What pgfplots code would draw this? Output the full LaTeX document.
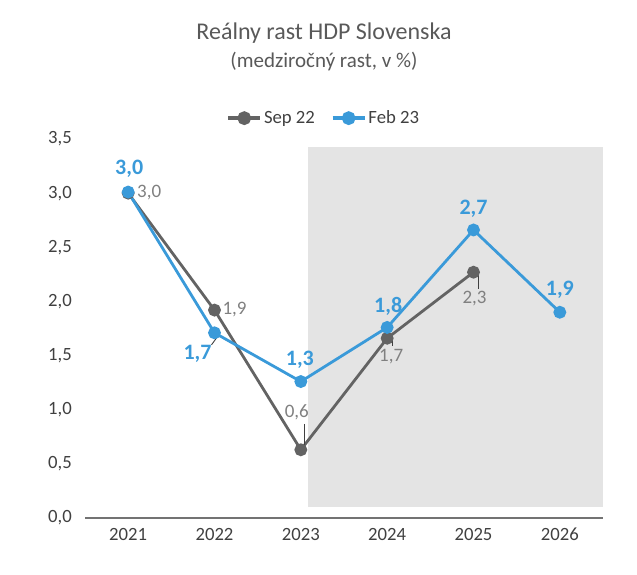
\documentclass[border=0pt]{standalone}
\usepackage{pgfplots}
\usepackage{pgfplotstable}
\pgfplotsset{compat=1.18}
\usepackage{fontspec}
\setmainfont{Carlito}

\definecolor{sepgray}{HTML}{636363}
\definecolor{seplabel}{HTML}{808080}
\definecolor{febblue}{HTML}{3A9AD9}
\definecolor{shade}{HTML}{E4E4E4}
\definecolor{titlegray}{HTML}{595959}
\definecolor{ticktext}{HTML}{404040}

% label offsets (dx, dy in pt) relative to each point
\pgfplotstableread{
x y dx dy
0 3.00 21 1
1 1.92 20 1
2 0.63 -4 37
3 1.66 4 -18
4 2.27 1 -26
}\sepdata

\pgfplotstableread{
x y dx dy
0 3.01 1 23
1 1.71 -17 -21
2 1.26 -1 22
3 1.76 1 21
4 2.66 0 21
5 1.90 0 22
}\febdata

\pgfplotsset{
  valuelabels/.style={
    nodes near coords={\pgfmathprintnumber[fixed,fixed zerofill,precision=1,use comma]{\pgfplotspointmeta}},
    visualization depends on={\thisrow{dx} \as \lblx},
    visualization depends on={\thisrow{dy} \as \lbly},
    every node near coord/.append style={anchor=center, inner sep=0pt,
      xshift=\lblx pt, yshift=\lbly pt},
  },
}

\begin{document}
\begin{tikzpicture}
\path[use as bounding box] (0,0) rectangle (637pt,574pt);

\node[font=\fontsize{24}{28}\selectfont, text=titlegray] at (324pt,541pt) {Reálny rast HDP Slovenska};
\node[font=\fontsize{21}{25}\selectfont, text=titlegray] at (324pt,512pt) {(medziročný rast, v~\%)};

\begin{axis}[
  at={(85pt,56pt)}, anchor=south west,
  scale only axis, width=518pt, height=379pt,
  xmin=-0.5, xmax=5.5, ymin=0, ymax=3.5,
  xtick={0,...,5}, xticklabels={2021,2022,2023,2024,2025,2026},
  ytick={0,0.5,...,3.5},
  major tick length=0pt,
  axis x line*=bottom, axis y line*=left,
  y axis line style={draw=none},
  x axis line style={draw=black!55, line width=1.2pt},
  /pgf/number format/assume math mode=true,
  yticklabel={\pgfmathprintnumber[fixed,fixed zerofill,precision=1,use comma]{\tick}},
  tick label style={font=\fontsize{18.7}{22}\selectfont, text=ticktext},
  yticklabel style={anchor=east, inner sep=0pt, xshift=-13pt},
  xticklabel style={anchor=north, inner sep=0pt, yshift=-10pt},
  clip=false,
  legend style={at={(0.461,1.055)}, anchor=center, draw=none, fill=none,
    legend columns=2, font=\fontsize{18.7}{22}\selectfont, text=ticktext,
    /tikz/every even column/.append style={column sep=14pt}},
  legend image code/.code={
    \draw[mark=none,#1,line width=3.5pt] (0pt,0pt) -- (32pt,0pt);
    \fill[#1] (16pt,0pt) circle (5.5pt);},
]
% forecast period background
\addplot[fill=shade, draw=none, forget plot]
  coordinates {(2.08,0.1) (5.5,0.1) (5.5,3.43) (2.08,3.43)} -- cycle;

\addplot[color=sepgray, line width=2.8pt, mark=*, mark size=5pt, valuelabels,
  every node near coord/.append style={text=seplabel, font=\fontsize{19}{22}\selectfont}]
  table[x=x,y=y] {\sepdata};
\addlegendentry{Sep 22}

\addplot[color=febblue, line width=2.8pt, mark=*, mark size=5pt, valuelabels,
  every node near coord/.append style={text=febblue, font=\bfseries\fontsize{22}{26}\selectfont}]
  table[x=x,y=y] {\febdata};
\addlegendentry{Feb 23}

% leader lines to displaced labels
\draw[black!75, line width=0.9pt] ([shift={(5pt,-1pt)}]axis cs:1,1.71) -- ++(-8pt,-11pt);
\draw[black!75, line width=0.9pt] ([shift={(4pt,26pt)}]axis cs:2,0.63) -- ++(0pt,-22pt);
\draw[black!75, line width=0.9pt] ([shift={(5pt,0pt)}]axis cs:3,1.66) -- ++(0pt,-8pt);
\draw[black!75, line width=0.9pt] ([shift={(5pt,0pt)}]axis cs:4,2.27) -- ++(0pt,-17pt);
\end{axis}
\end{tikzpicture}
\end{document}
